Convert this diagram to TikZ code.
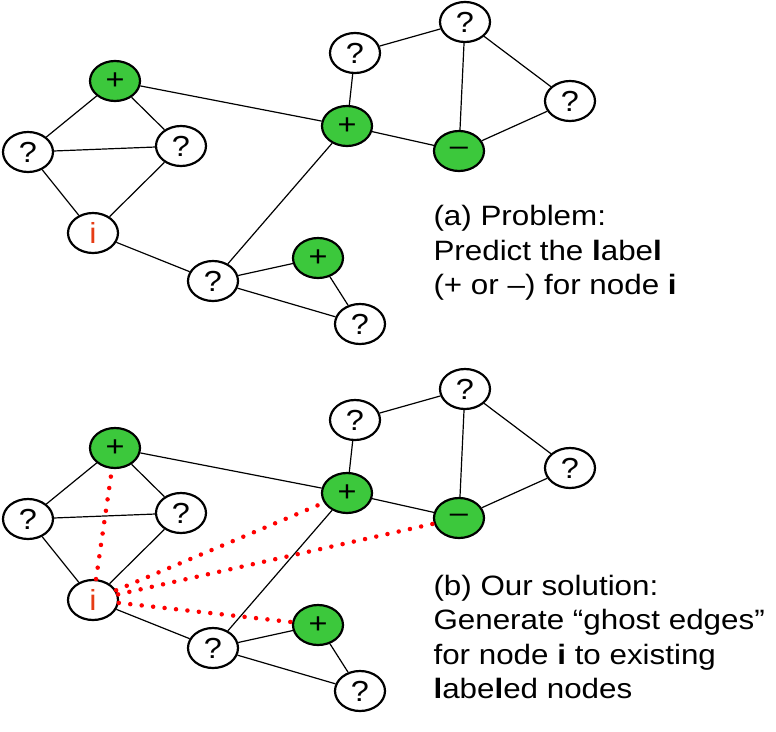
\documentclass[tikz,border=0pt]{standalone}
\usepackage{fontspec}
\setmainfont{Liberation Sans}
\newfontfamily\widefont[FakeStretch=1.12,Ligatures=TeX]{Liberation Sans}
\usetikzlibrary{shapes.geometric}
\definecolor{gr}{RGB}{60,200,60}
\definecolor{ired}{RGB}{230,60,20}
\begin{document}
\begin{tikzpicture}[x=1pt,y=-1pt,
 nd/.style={ellipse,draw,line width=2.2pt,minimum width=50pt,minimum height=40pt,inner sep=0pt,font=\widefont\fontsize{29}{29}\selectfont},
 g/.style={nd,fill=gr},
 w/.style={nd,fill=white},
 ed/.style={line width=1.2pt},
 gh/.style={red,line width=4.5pt,line cap=round,dash pattern=on 0pt off 11.5pt},
 lab/.style={anchor=west,align=left,font=\widefont\fontsize{28}{34.5}\selectfont}]
\useasboundingbox (0,0) rectangle (776,731);
\foreach \s/\oy in {t/0,b/367}{
\begin{scope}[yshift=-\oy pt]
\node[g] (A\s) at (115,81) {+};
\node[w] (B\s) at (28,152) {?};
\node[w] (C\s) at (181,146) {?};
\node[w,text=ired] (I\s) at (93,233) {i};
\node[g] (D\s) at (347,126) {+};
\node[w] (E\s) at (355,53) {?};
\node[w] (F\s) at (465,22) {?};
\node[w] (G\s) at (570,101) {?};
\node[g] (H\s) at (459,151) {–};
\node[w] (J\s) at (213,281) {?};
\node[g] (K\s) at (318,258) {+};
\node[w] (L\s) at (360,324) {?};
\end{scope}
\foreach \a/\b in {A/B,A/C,B/C,B/I,C/I,I/J,A/D,D/E,E/F,F/H,F/G,G/H,D/H,D/J,J/K,K/L,J/L}
 \draw[ed] (\a\s) -- (\b\s);
}
\foreach \t in {A,D,H,K} \draw[gh] (Ib) -- (\t b);
\node[lab] at (430,253) {(a) Problem:\\Predict the \textbf{l}abe\textbf{l}\\(+ or –) for node \textbf{i}};
\node[lab] at (430,637) {(b) Our solution:\\Generate “ghost edges”\\for node \textbf{i} to existing\\\textbf{l}abe\textbf{l}ed nodes};
\end{tikzpicture}
\end{document}
